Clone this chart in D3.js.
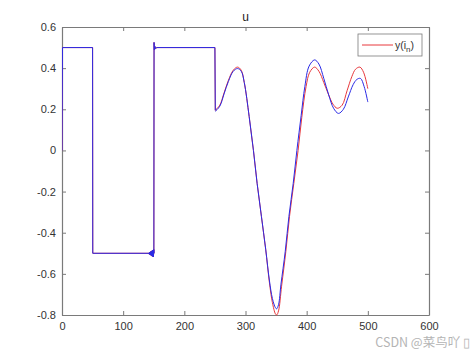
<!DOCTYPE html>
<html>
<head>
<meta charset="utf-8">
<script src="https://cdn.jsdelivr.net/npm/d3@7"></script>
<style>
  body { margin: 0; background: #fff; }
  svg { display: block; font-family: "Liberation Sans", Arial, sans-serif; }
</style>
</head>
<body>
<div id="chart"></div>
<script>
'use strict';

// step part of u, identical for both signals (0 .. 250)
// the dense ringing just before t=150 shows up as a small triangle
const stepT = [0, 0.8, 50, 50.3, 141, 141.5, 142, 142.5, 143, 143.5, 144, 144.5, 145, 145.5,
  146, 146.5, 147, 147.5, 148, 148.5, 149, 149.5, 150, 150.2,
  150.5, 151, 152, 153, 155, 250, 250.6];
const stepY = [0, 0.5, 0.5, -0.5, -0.5, -0.502, -0.498, -0.504, -0.496, -0.506, -0.494, -0.508,
  -0.492, -0.51, -0.49, -0.512, -0.488, -0.514, -0.486, -0.516, -0.484, -0.518, -0.482, -0.5,
  0.525, 0.49, 0.505, 0.495, 0.5, 0.5, 0.195];

// smooth part (250 .. 500)
const redT = [250.6, 258, 265, 272, 280, 287, 293, 298, 306, 313, 319, 326, 333, 339, 344,
  349, 351, 354, 359, 366, 372, 379, 386, 392, 399, 405, 413, 420, 428, 436, 443, 450,
  458, 466, 474, 480, 487, 493, 500];
const redY = [0.195, 0.22, 0.28, 0.34, 0.39, 0.405, 0.39, 0.33, 0.165, 0.0, -0.16, -0.32,
  -0.48, -0.64, -0.74, -0.795, -0.8, -0.78, -0.66, -0.49, -0.32, -0.16, 0.0, 0.16, 0.31,
  0.38, 0.405, 0.385, 0.33, 0.27, 0.225, 0.205, 0.22, 0.29, 0.36, 0.395, 0.405, 0.38, 0.3];

const blueT = [250.6, 258, 265, 272, 280, 287, 293, 298, 306, 313, 319, 326, 333, 339, 344,
  349, 351, 354, 358, 365, 371, 378, 384, 391, 397, 404, 413, 420, 428, 436, 444, 452,
  460, 468, 476, 482, 488, 494, 500];
const blueY = [0.19, 0.215, 0.275, 0.335, 0.385, 0.398, 0.385, 0.33, 0.165, 0.0, -0.16, -0.32,
  -0.48, -0.63, -0.72, -0.765, -0.77, -0.75, -0.65, -0.49, -0.32, -0.16, 0.0, 0.17, 0.31,
  0.41, 0.44, 0.42, 0.35, 0.27, 0.205, 0.18, 0.2, 0.26, 0.32, 0.345, 0.35, 0.31, 0.235];

const xTicks = [0, 100, 200, 300, 400, 500, 600];
const yTicks = [0.6, 0.4, 0.2, 0, -0.2, -0.4, -0.6, -0.8];

const W = 474, H = 355;
const margin = {top: 27, right: 45, bottom: 40, left: 62};
const AXIS = '#7a7a7a';
const LABEL = '#333';
const RED = '#e8383c';
const BLUE = '#2a2ae6';

function draw() {
  const svg = d3.select('#chart').append('svg')
      .attr('width', W)
      .attr('height', H);

  const x = d3.scaleLinear().domain([0, 600]).range([margin.left, W - margin.right]);
  const y = d3.scaleLinear().domain([-0.8, 0.6]).range([H - margin.bottom, margin.top]);

  svg.append('defs').append('clipPath').attr('id', 'plot')
    .append('rect')
      .attr('x', margin.left).attr('y', margin.top - 1)
      .attr('width', x(600) - x(0)).attr('height', y(-0.8) - y(0.6) + 2);

  // axes (MATLAB style box with inward ticks)
  const tickLen = 4;
  const fmt = d => d3.format('')(d).replace('−', '-');

  const bottom = d3.axisBottom(x).tickValues(xTicks).tickSizeInner(-tickLen).tickSizeOuter(0).tickPadding(7).tickFormat(fmt);
  const top = d3.axisTop(x).tickValues(xTicks).tickSizeInner(-tickLen).tickSizeOuter(0).tickFormat('');
  const left = d3.axisLeft(y).tickValues(yTicks).tickSizeInner(-tickLen).tickSizeOuter(0).tickPadding(6).tickFormat(fmt);
  const right = d3.axisRight(y).tickValues(yTicks).tickSizeInner(-tickLen).tickSizeOuter(0).tickFormat('');

  const axes = [
    [bottom, `translate(0,${y(-0.8)})`],
    [top, `translate(0,${y(0.6)})`],
    [left, `translate(${x(0)},0)`],
    [right, `translate(${x(600)},0)`],
  ];
  axes.forEach(([ax, tr]) => {
    const g = svg.append('g').attr('transform', tr).call(ax);
    g.select('.domain').attr('stroke', AXIS).attr('stroke-width', 1.2);
    g.selectAll('.tick line').attr('stroke', AXIS);
    g.selectAll('.tick text').attr('fill', LABEL).style('font-size', '11px');
  });

  // curves
  const stepLine = d3.line().x((d, i) => x(stepT[i])).y(d => y(d));
  const waveLine = (ts) => d3.line().x((d, i) => x(ts[i])).y(d => y(d)).curve(d3.curveCatmullRom.alpha(0.5));

  const plot = svg.append('g').attr('clip-path', 'url(#plot)')
      .attr('fill', 'none').attr('stroke-width', 1);

  plot.append('path').attr('d', waveLine(redT)(redY)).attr('stroke', RED);
  plot.append('path').attr('d', stepLine(stepY)).attr('stroke', RED);
  plot.append('path').attr('d', waveLine(blueT)(blueY)).attr('stroke', BLUE);
  plot.append('path').attr('d', stepLine(stepY)).attr('stroke', BLUE);

  // title
  svg.append('text')
      .attr('x', (x(0) + x(600)) / 2).attr('y', 21)
      .attr('text-anchor', 'middle')
      .attr('fill', '#222')
      .style('font-size', '12px')
      .text('u');

  // legend
  const lg = svg.append('g').attr('transform', 'translate(358,34)');
  lg.append('rect')
      .attr('width', 64).attr('height', 22)
      .attr('fill', '#fff').attr('stroke', AXIS).attr('stroke-width', 0.8);
  lg.append('line')
      .attr('x1', 4).attr('x2', 35).attr('y1', 11).attr('y2', 11)
      .attr('stroke', RED).attr('stroke-width', 1);
  const lt = lg.append('text')
      .attr('x', 37).attr('y', 14.5)
      .attr('fill', LABEL)
      .style('font-size', '10.5px');
  lt.append('tspan').text('y(i');
  lt.append('tspan').attr('dy', 3).style('font-size', '8px').text('n');
  lt.append('tspan').attr('dy', -3).text(')');

  // watermark
  svg.append('text')
      .attr('x', 470).attr('y', 347)
      .attr('text-anchor', 'end')
      .attr('fill', '#b4b4b4')
      .style('font-size', '12.5px')
      .style('font-family', '"Noto Sans CJK SC", "Noto Sans", sans-serif')
      .text('CSDN @菜鸟吖 ▯');
} // draw

draw();
</script>
</body>
</html>
